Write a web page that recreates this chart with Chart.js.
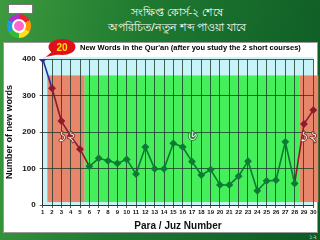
<!DOCTYPE html>
<html><head><meta charset="utf-8">
<script src="https://cdn.jsdelivr.net/npm/chart.js@4.4.1/dist/chart.umd.min.js"></script>
<style>
html,body{margin:0;padding:0;width:320px;height:240px;overflow:hidden}
body{background:linear-gradient(100deg,#3d9a3e 0%,#1f7a30 40%,#0d5a25 100%);position:relative;font-family:"Liberation Sans",Arial,sans-serif}
#hdr{position:absolute;left:42px;top:5px;width:270px;text-align:center;color:#fff;font-family:"Noto Sans","DejaVu Sans",sans-serif;font-size:10.5px;line-height:15px}
#logoTop{position:absolute;left:8px;top:4px;width:23px;height:8px;background:#fff;border:1px solid #777}
#logo{position:absolute;left:7px;top:14px;width:24px;height:24px;border-radius:50%;background:conic-gradient(#e23 0 60deg,#f90 60deg 120deg,#fd2 120deg 180deg,#3b3 180deg 240deg,#29d 240deg 300deg,#a3c 300deg 360deg)}
#logo div{position:absolute;left:5px;top:5px;width:10px;height:10px;border-radius:50%;background:#f6c;border:2px solid #fff}
#panel{position:absolute;left:3px;top:42px;width:313px;height:189px;background:#fff;border:1px solid #999}
#pg{position:absolute;left:309px;top:232px;color:#fff;font-size:6px}
canvas{position:absolute;left:0;top:0}
</style></head>
<body>
<div id="logoTop"></div><div id="logo"><div></div></div>
<div id="hdr">সংক্ষিপ্ত কোর্স-২ শেষে<br>অপরিচিত/নতুন শব্দ পাওয়া যাবে</div>
<div id="panel"></div>
<div id="pg">১২</div>
<canvas id="c" width="320" height="240"></canvas>
<script>
const paraLabels = ['1','2','3','4','5','6','7','8','9','10','11','12','13','14','15','16','17','18','19','20','21','22','23','24','25','26','27','28','29','30'];
const newWords = [400,320,230,189,153,106,128,121,114,125,85,159,99,99,169,159,119,82,97,55,55,79,120,39,66,68,173,59,222,260];
const yTicks = [0,100,200,300,400];
const bandLabels = ['১২','৬','১২'];
const chartTitle = "New Words in the Qur'an (after you study the 2 short courses)";
const calloutText = '20';

const BLUE='#2b2f9e', RED='#8e1a2c', GREEN='#0f7a35';
function ptColor(i){ if(i===0) return BLUE; if(i<=4||i>=28) return RED; return GREEN; }
function segColor(i){ if(i===0) return BLUE; if(i<=4||i>=27) return RED; return GREEN; }

const bg = {
  id:'bg',
  beforeDraw(chart){
    const {ctx, chartArea:a, scales:{x,y}} = chart;
    ctx.save();
    ctx.fillStyle='#c8f3f8';
    ctx.fillRect(a.left, a.top-2, a.right-a.left, a.bottom-a.top+2);
    const t=y.getPixelForValue(355), b=y.getPixelForValue(8);
    ctx.fillStyle='#e8866b';
    let l=x.getPixelForValue(0.5), r=x.getPixelForValue(4.5);
    ctx.fillRect(l,t,r-l,b-t);
    ctx.fillStyle='#45ef5c';
    l=r; r=x.getPixelForValue(27.5);
    ctx.fillRect(l,t,r-l,b-t);
    ctx.fillStyle='#e8866b';
    ctx.fillRect(r,t,a.right+5-r,b-t);
    ctx.restore();
  },
  afterDraw(chart){
    const {ctx, chartArea:a, scales:{x,y}} = chart;
    ctx.save();
    // band labels
    ctx.font='italic 14px "Noto Sans","DejaVu Sans",sans-serif';
    ctx.textAlign='center'; ctx.textBaseline='middle';
    ctx.lineWidth=2; ctx.fillStyle='#fff';
    const pos=[[2.5,186],[16.0,188],[28.4,186]];
    pos.forEach((p,i)=>{
      const px=x.getPixelForValue(p[0]), py=y.getPixelForValue(p[1]);
      ctx.strokeStyle = i===1 ? '#2a8a3a' : '#8a3a30';
      ctx.strokeText(bandLabels[i],px,py); ctx.fillText(bandLabels[i],px,py);
    });
    // title
    ctx.fillStyle='#000'; ctx.font='bold 7.5px "Liberation Sans",Arial,sans-serif';
    ctx.textAlign='left';
    ctx.fillText(chartTitle, 80, 48);
    // callout
    const cx=62, cy=47;
    const px0=x.getPixelForValue(0), py0=y.getPixelForValue(newWords[0]);
    ctx.fillStyle='#e0101a';
    ctx.beginPath(); ctx.moveTo(cx-8,cy+3); ctx.lineTo(px0+3,py0-2); ctx.lineTo(cx-2,cy+7); ctx.closePath(); ctx.fill();
    ctx.beginPath(); ctx.ellipse(cx,cy,13.5,8,0,0,Math.PI*2); ctx.fill();
    ctx.fillStyle='#ffe000'; ctx.font='bold 10px "Liberation Sans",Arial,sans-serif';
    ctx.textAlign='center';
    ctx.fillText(calloutText,cx,cy+1);
    ctx.restore();
  }
};

new Chart(document.getElementById('c'), {
  type:'line',
  data:{labels:paraLabels, datasets:[{
    data:newWords,
    borderWidth:1.6,
    pointStyle:'rectRot', pointRadius:2.8,
    pointBackgroundColor:newWords.map((v,i)=>ptColor(i)),
    pointBorderColor:newWords.map((v,i)=>ptColor(i)),
    borderColor:GREEN,
    segment:{borderColor:c=>segColor(c.p0DataIndex)},
    tension:0
  }]},
  plugins:[bg],
  options:{
    responsive:false, animation:false, devicePixelRatio:1,
    layout:{padding:{left:4,top:59,right:6.7,bottom:8}},
    plugins:{legend:{display:false},tooltip:{enabled:false}},
    scales:{
      x:{offset:false,
        grid:{color:'#1e3a2a',lineWidth:0.8,tickLength:3},
        border:{color:'#333'},
        ticks:{font:{size:6,weight:'bold',family:'"Liberation Sans",Arial'},color:'#111',padding:1,maxRotation:0,autoSkip:false},
        title:{display:true,text:'Para / Juz Number',font:{size:10,weight:'bold',family:'"Liberation Sans",Arial'},color:'#111',padding:0},
        afterFit(s){s.height=27;}
      },
      y:{min:0,max:400,
        afterBuildTicks(s){s.ticks=yTicks.map(v=>({value:v}));},
        grid:{color:'#1e3a2a',lineWidth:0.8,tickLength:3},
        border:{color:'#333'},
        ticks:{font:{size:8,weight:'bold',family:'"Liberation Sans",Arial'},color:'#111',padding:4},
        title:{display:true,text:'Number of new words',font:{size:9,weight:'bold',family:'"Liberation Sans",Arial'},color:'#111',padding:0},
        afterFit(s){s.width=38.7;}
      }
    }
  }
});
</script>
</body></html>
